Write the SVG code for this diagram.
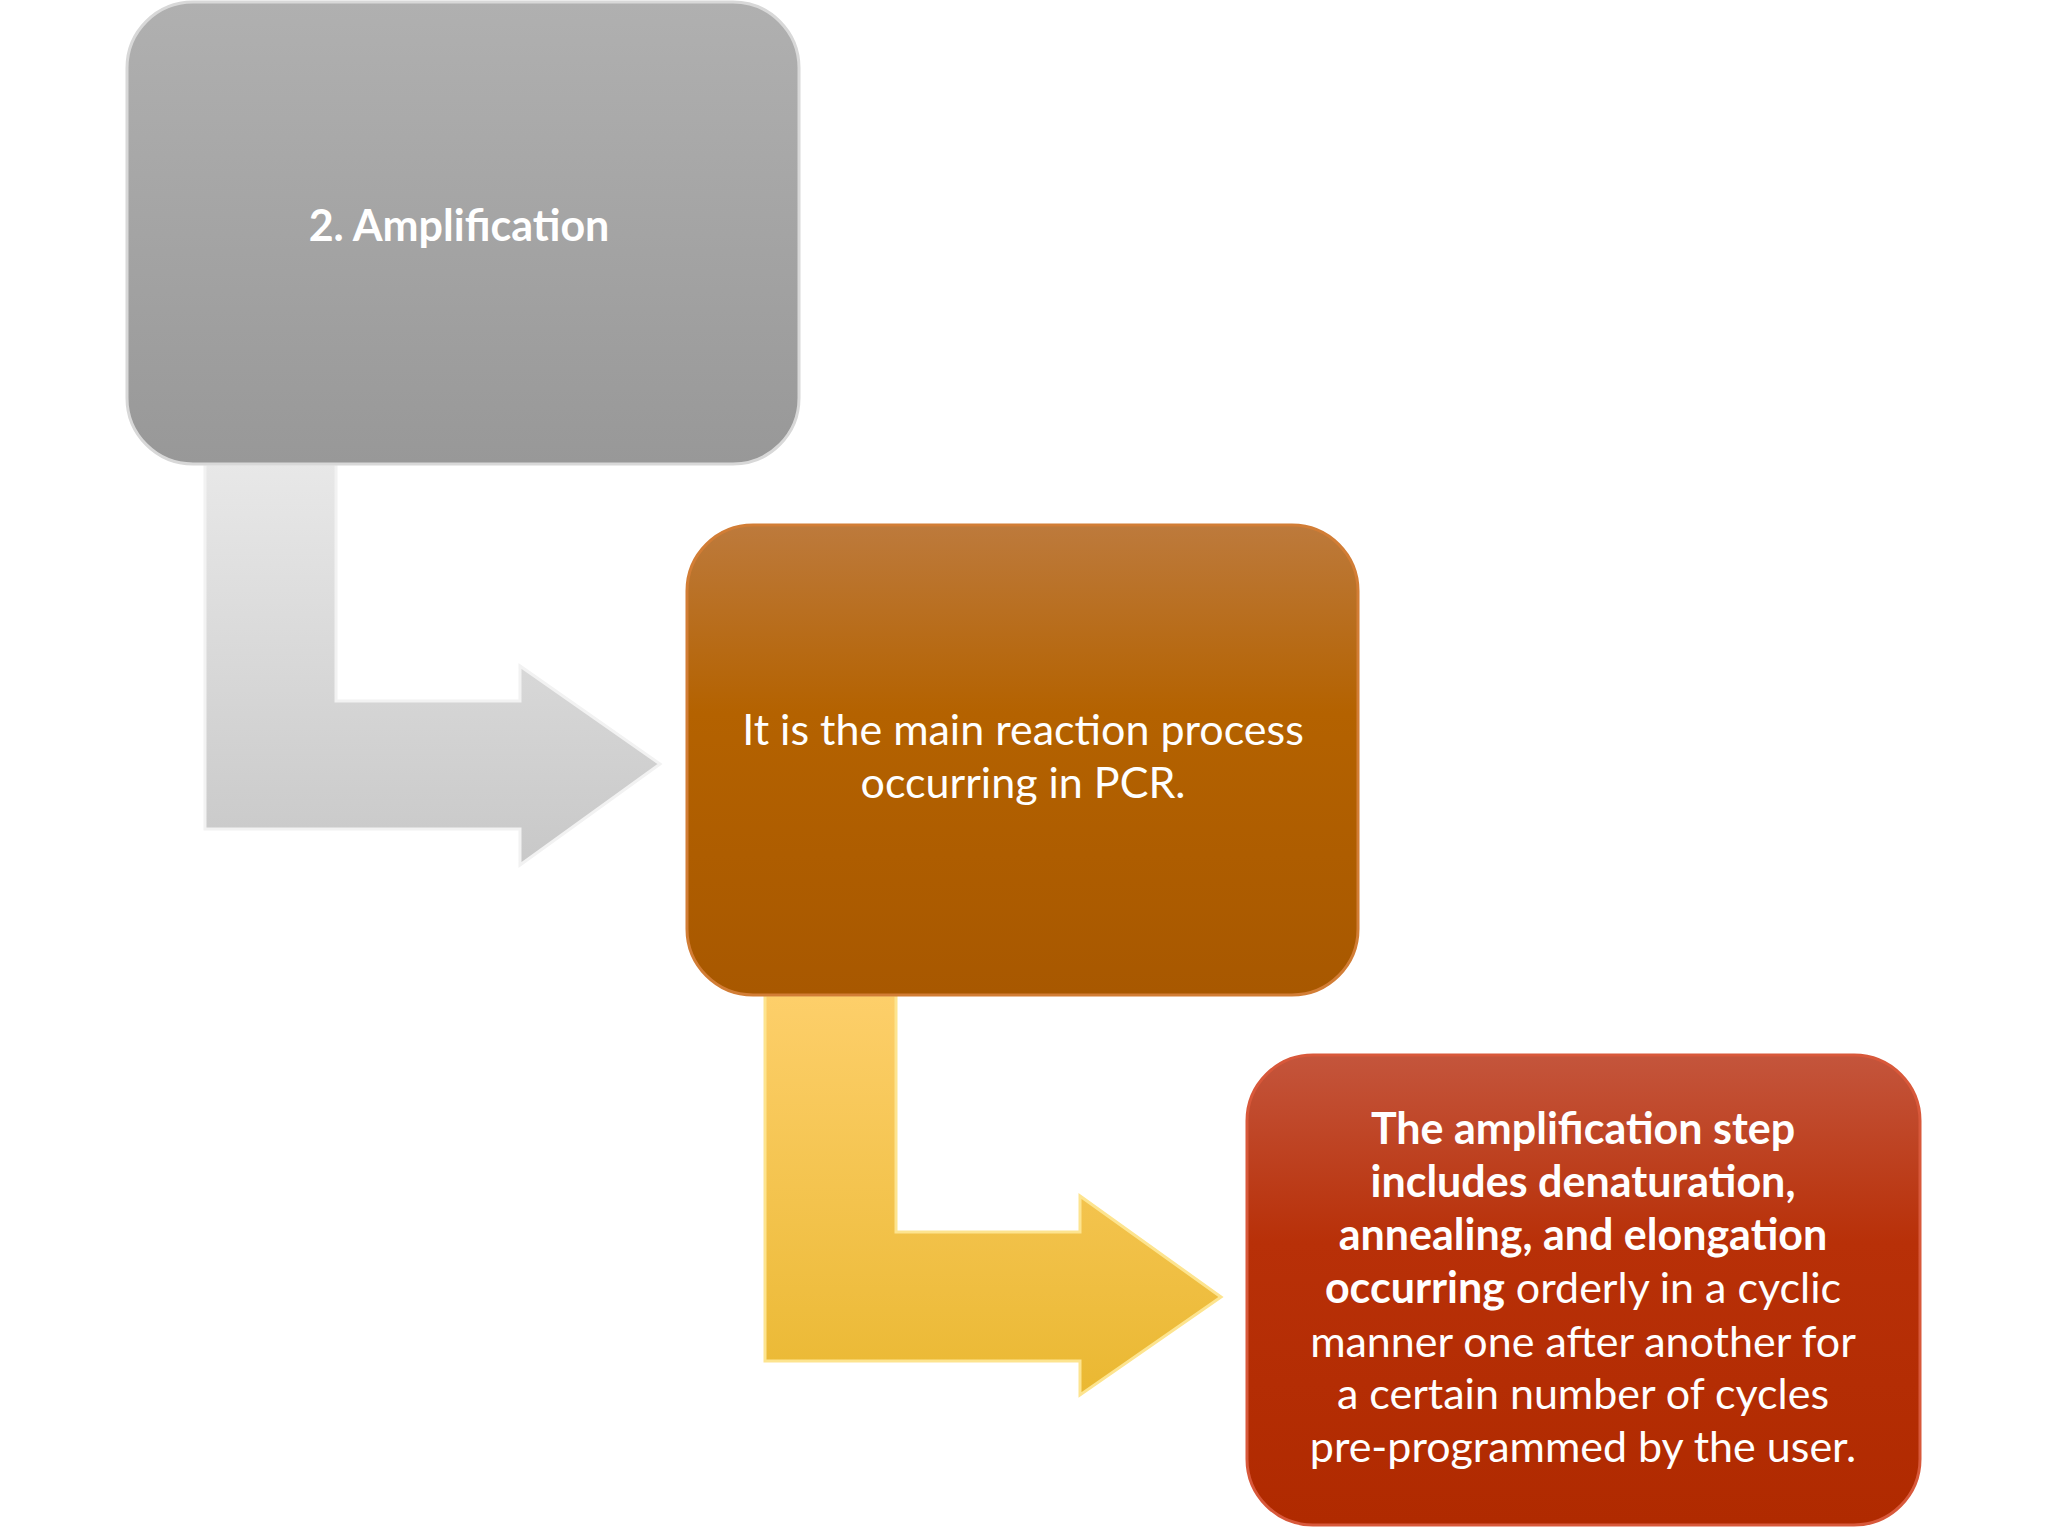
<svg xmlns="http://www.w3.org/2000/svg" width="2048" height="1536" viewBox="0 0 2048 1536">
<defs>
<linearGradient id="g1" x1="0" y1="0" x2="0" y2="1"><stop offset="0" stop-color="#b0b0b0"/><stop offset="1" stop-color="#989898"/></linearGradient>
<linearGradient id="g2" x1="0" y1="0" x2="0" y2="1"><stop offset="0" stop-color="#bd7a3c"/><stop offset="0.4" stop-color="#b46200"/><stop offset="1" stop-color="#a85800"/></linearGradient>
<linearGradient id="g3" x1="0" y1="0" x2="0" y2="1"><stop offset="0" stop-color="#c4553c"/><stop offset="0.4" stop-color="#b83008"/><stop offset="1" stop-color="#b02a00"/></linearGradient>
<linearGradient id="a1" x1="0" y1="0" x2="0" y2="1"><stop offset="0" stop-color="#e8e8e8"/><stop offset="1" stop-color="#c8c8c8"/></linearGradient>
<linearGradient id="a2" x1="0" y1="0" x2="0" y2="1"><stop offset="0" stop-color="#fdcf6a"/><stop offset="1" stop-color="#eab832"/></linearGradient>
<style>
.t{font-family:Lato,"Open Sans",sans-serif;fill:#fff;text-anchor:middle;font-size:43px}
.b{font-weight:bold}
</style>
</defs>
<g id="connectors">
<path d="M205,464 H336 V701 H520 V666 L660,764 L520,865 V829 H205 Z" fill="url(#a1)" stroke="#f2f2f2" stroke-width="3"/>
<path d="M765,995 H896 V1232 H1080 V1196 L1221,1297 L1080,1395 V1361 H765 Z" fill="url(#a2)" stroke="#fde48f" stroke-width="3"/>
</g>
<g id="n1">
<rect x="127" y="2" width="672" height="462" rx="66" fill="url(#g1)" stroke="#d8d8d8" stroke-width="3"/>
<text class="t b" x="459" y="241">2. Amplification</text>
</g>
<g id="n2">
<rect x="687" y="525" width="671" height="470" rx="66" fill="url(#g2)" stroke="#d27d35" stroke-width="3"/>
<text class="t" x="1023" y="745">It is the main reaction process</text>
<text class="t" x="1023" y="798">occurring in PCR.</text>
</g>
<g id="n3">
<rect x="1247" y="1055" width="673" height="470" rx="66" fill="url(#g3)" stroke="#d8583a" stroke-width="3"/>
<text class="t b" x="1583" y="1144">The amplification step</text>
<text class="t b" x="1583" y="1197">includes denaturation,</text>
<text class="t b" x="1583" y="1250">annealing, and elongation</text>
<text class="t" x="1583" y="1303"><tspan class="b">occurring</tspan> orderly in a cyclic</text>
<text class="t" x="1583" y="1357">manner one after another for</text>
<text class="t" x="1583" y="1409">a certain number of cycles</text>
<text class="t" x="1583" y="1462">pre-programmed by the user.</text>
</g>
</svg>
